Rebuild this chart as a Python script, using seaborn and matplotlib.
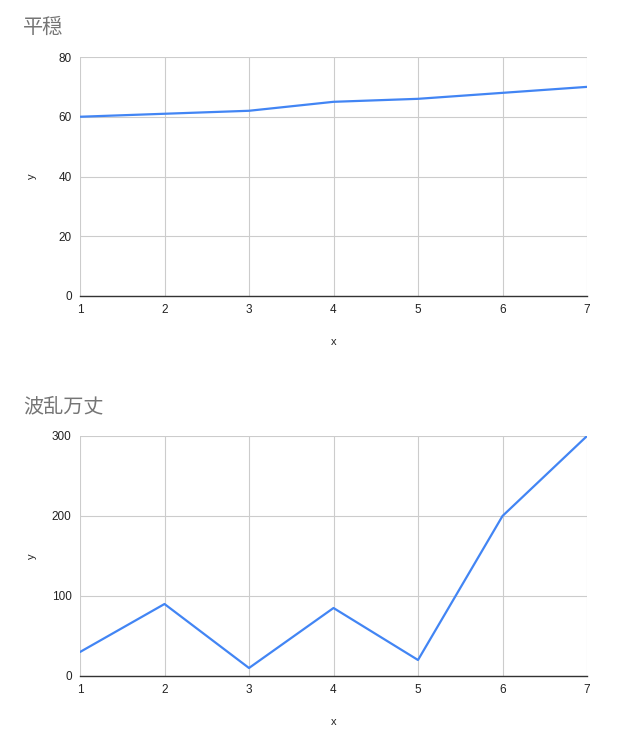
import pandas as pd
import matplotlib.pyplot as plt
import seaborn as sns

# data
x_vals = [1, 2, 3, 4, 5, 6, 7]
calm_y = [60, 61, 62, 65, 66, 68, 70]
wild_y = [30, 90, 10, 85, 20, 200, 300]
titles = ["平穏", "波乱万丈"]
calm_ticks = [0, 20, 40, 60, 80]
wild_ticks = [0, 100, 200, 300]

sns.set_style("white")
plt.rcParams['font.family'] = ['Liberation Sans', 'Noto Sans CJK JP', 'DejaVu Sans']

fig = plt.figure(figsize=(6.32, 7.35), dpi=100)
ax1 = fig.add_axes([80/632, 1 - 296/735, 507/632, 239/735])
ax2 = fig.add_axes([80/632, 1 - 676/735, 507/632, 240/735])

panels = [
    (ax1, calm_y, calm_ticks, titles[0], 27, 239),
    (ax2, wild_y, wild_ticks, titles[1], 407, 240),
]

for ax, ys, yticks, title, title_px, h_px in panels:
    df = pd.DataFrame({'x': x_vals, 'y': ys})
    sns.lineplot(data=df, x='x', y='y', ax=ax, color='#4285F4', linewidth=1.6)
    ax.set_xlim(x_vals[0], x_vals[-1])
    ax.set_ylim(yticks[0], yticks[-1])
    ax.set_xticks(x_vals)
    ax.set_yticks(yticks)
    ax.grid(True, color='#cccccc', linewidth=0.8)
    ax.set_axisbelow(True)
    for side in ['top', 'right', 'left']:
        ax.spines[side].set_visible(False)
    ax.spines['bottom'].set_color('#333333')
    ax.spines['bottom'].set_linewidth(1.0)
    ax.tick_params(axis='both', length=0, labelsize=8.5, colors='#222222', pad=6)
    ax.set_xlabel('x', fontsize=8, color='#222222')
    ax.set_ylabel('y', fontsize=8, color='#222222')
    # axis titles sit at fixed pixel offsets in the reference
    ax.xaxis.set_label_coords(0.5, -46 / h_px)
    ax.yaxis.set_label_coords(-48 / 507, 0.5)
    ax.xaxis.label.set_va('center')
    ax.yaxis.label.set_va('center')
    # title placed at top-left like Google Sheets
    fig.text(23/632, 1 - title_px/735, title, fontsize=14.5, color='#757575',
             ha='left', va='center', family=['Noto Sans CJK JP', 'DejaVu Sans'])

fig.savefig("out.png", dpi=100)
